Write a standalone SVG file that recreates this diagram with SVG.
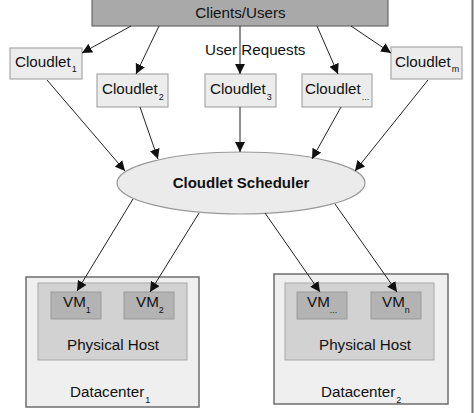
<svg xmlns="http://www.w3.org/2000/svg" width="474" height="413" viewBox="0 0 474 413">
<style>
text{font-family:"Liberation Sans",Arial,sans-serif;fill:#111;font-size:15.2px}
.sub{font-size:9px}
.cl{fill:#ececec;stroke:#a8a8a8;stroke-width:1.2}
.dc{fill:#efefef;stroke:#6e6e6e;stroke-width:1.5}
.ph{fill:#d2d2d2;stroke:#a8a8a8;stroke-width:1}
.vm{fill:#b3b3b3;stroke:#999;stroke-width:1}
.ln{stroke:#222;stroke-width:1;fill:none;marker-end:url(#ah)}
</style>
<defs>
<marker id="ah" viewBox="0 0 10 10" refX="10" refY="5" markerWidth="10" markerHeight="10" markerUnits="userSpaceOnUse" orient="auto">
<path d="M0,0 L10,5 L0,10 z" fill="#111"/>
</marker>
</defs>
<rect x="0" y="0" width="474" height="413" fill="#fff"/>
<line x1="472.5" y1="0" x2="472.5" y2="413" stroke="#777" stroke-width="2"/>
<g id="clients">
<rect x="92" y="-2" width="296" height="28" fill="#a9a9a9" stroke="#6a6a6a" stroke-width="1.2"/>
<text x="240.5" y="18" text-anchor="middle">Clients/Users</text>
</g>
<g id="user-requests">
<text x="205" y="55">User Requests</text>
</g>
<g id="cloudlet1">
<rect class="cl" x="10" y="48" width="72" height="31"/>
<text x="15" y="67">Cloudlet<tspan class="sub" dx="1" dy="5">1</tspan></text>
</g>
<g id="cloudlet2">
<rect class="cl" x="97" y="74" width="71" height="33"/>
<text x="102" y="94">Cloudlet<tspan class="sub" dx="1" dy="6">2</tspan></text>
</g>
<g id="cloudlet3">
<rect class="cl" x="205" y="74" width="71" height="33"/>
<text x="210" y="94">Cloudlet<tspan class="sub" dx="1" dy="6">3</tspan></text>
</g>
<g id="cloudlet-dots">
<rect class="cl" x="302" y="74" width="70" height="33"/>
<text x="305" y="94">Cloudlet<tspan class="sub" dx="1" dy="6">...</tspan></text>
</g>
<g id="cloudletm">
<rect class="cl" x="391" y="47" width="71" height="32"/>
<text x="395" y="67">Cloudlet<tspan class="sub" dx="1" dy="5">m</tspan></text>
</g>
<g id="scheduler">
<ellipse cx="241" cy="183" rx="124" ry="31" fill="#ebebeb" stroke="#999" stroke-width="1.2"/>
<text x="241" y="188" text-anchor="middle" font-weight="bold" style="font-size:15px">Cloudlet Scheduler</text>
</g>
<g id="datacenter1">
<rect class="dc" x="26" y="277" width="173" height="130"/>
<rect class="ph" x="38" y="283" width="149" height="77"/>
<text x="67" y="350">Physical Host</text>
<text x="70" y="397">Datacenter<tspan class="sub" dx="1" dy="6">1</tspan></text>
</g>
<g id="vm1">
<rect class="vm" x="51" y="292" width="50" height="27"/>
<text x="63" y="307">VM<tspan class="sub" dx="0" dy="6">1</tspan></text>
</g>
<g id="vm2">
<rect class="vm" x="124" y="292" width="50" height="27"/>
<text x="136" y="307">VM<tspan class="sub" dx="0" dy="6">2</tspan></text>
</g>
<g id="datacenter2">
<rect class="dc" x="274" y="274" width="174" height="130"/>
<rect class="ph" x="285" y="283" width="149" height="77"/>
<text x="319" y="350">Physical Host</text>
<text x="321" y="397">Datacenter<tspan class="sub" dx="1" dy="6">2</tspan></text>
</g>
<g id="vm-dots">
<rect class="vm" x="297" y="292" width="50" height="27"/>
<text x="307" y="307">VM<tspan class="sub" dx="0" dy="6">...</tspan></text>
</g>
<g id="vmn">
<rect class="vm" x="371" y="292" width="50" height="27"/>
<text x="382" y="307">VM<tspan class="sub" dx="0" dy="6">n</tspan></text>
</g>
<g id="connectors">
<line class="ln" x1="131" y1="26" x2="82" y2="53"/>
<line class="ln" x1="159" y1="26" x2="136" y2="74"/>
<line class="ln" x1="240" y1="26" x2="240" y2="74"/>
<line class="ln" x1="317" y1="26" x2="338" y2="74"/>
<line class="ln" x1="351" y1="26" x2="391" y2="53"/>
<line class="ln" x1="47" y1="80" x2="125" y2="171"/>
<line class="ln" x1="140" y1="107" x2="158" y2="159"/>
<line class="ln" x1="240" y1="107" x2="240" y2="152"/>
<line class="ln" x1="341" y1="107" x2="312" y2="159"/>
<line class="ln" x1="428" y1="80" x2="355" y2="171"/>
<line class="ln" x1="133" y1="199" x2="77" y2="291"/>
<line class="ln" x1="199" y1="213" x2="150" y2="292"/>
<line class="ln" x1="265" y1="213" x2="320" y2="292"/>
<line class="ln" x1="335" y1="204" x2="397" y2="292"/>
</g>
</svg>
